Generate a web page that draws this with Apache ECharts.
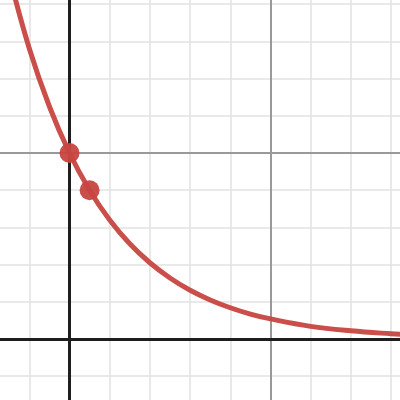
<!DOCTYPE html>
<html>
<head>
<meta charset="utf-8">
<script src="https://cdn.jsdelivr.net/npm/echarts@6/dist/echarts.min.js"></script>
<style>html,body{margin:0;padding:0;background:#fff}#c{width:400px;height:400px}</style>
</head>
<body>
<div id="c"></div>
<script>
// Curve samples (x, y)
const curveX = [-1.75, -1.5, -1, -0.5, 0, 0.5, 1, 1.5, 2, 2.5, 3, 3.5, 4, 4.5, 5, 6, 7, 8, 8.5];
const curveY = [10.92, 9.77, 7.81, 6.25, 5, 4, 3.2, 2.56, 2.05, 1.64, 1.31, 1.05, 0.84, 0.67, 0.54, 0.34, 0.22, 0.14, 0.11];
// Marked points
const pointX = [0, 0.5];
const pointY = [5, 4];
// Grid lines
const majorX = [5];
const majorY = [5];
const axisX = [0];
const axisY = [0];

const red = '#c74440';
const chart = echarts.init(document.getElementById('c'), null, {renderer: 'canvas'});

const lineMarks = [];
majorX.forEach(v => lineMarks.push({xAxis: v, lineStyle: {color: '#999', width: 2, type: 'solid'}}));
majorY.forEach(v => lineMarks.push({yAxis: v, lineStyle: {color: '#999', width: 2, type: 'solid'}}));
axisX.forEach(v => lineMarks.push({xAxis: v, lineStyle: {color: '#1e1e1e', width: 3, type: 'solid'}}));
axisY.forEach(v => lineMarks.push({yAxis: v, lineStyle: {color: '#1e1e1e', width: 3, type: 'solid'}}));

chart.setOption({
  animation: false,
  backgroundColor: '#fff',
  grid: {left: -10.9, top: -33, width: 442.2, height: 446.4, containLabel: false, outerBoundsMode: 'none'},
  xAxis: {
    type: 'value', min: -2, max: 9, interval: 1,
    axisLine: {show: false}, axisTick: {show: false}, axisLabel: {show: false},
    splitLine: {show: true, lineStyle: {color: '#e2e2e2', width: 1.5}}
  },
  yAxis: {
    type: 'value', min: -2, max: 10, interval: 1,
    axisLine: {show: false}, axisTick: {show: false}, axisLabel: {show: false},
    splitLine: {show: true, lineStyle: {color: '#e2e2e2', width: 1.5}}
  },
  series: [
    {
      type: 'line', data: [], z: 1, zlevel: 0, silent: true,
      markLine: {silent: true, z: 1, symbol: ['none', 'none'], label: {show: false}, animation: false, data: lineMarks}
    },
    {
      type: 'line', z: 20, silent: true,
      data: curveX.map((x, i) => [x, curveY[i]]),
      smooth: 0.4, showSymbol: false, clip: false,
      lineStyle: {color: red, width: 5, opacity: 0.95}
    },
    {
      type: 'scatter', z: 30, silent: true,
      data: pointX.map((x, i) => [x, pointY[i]]),
      symbolSize: 20,
      itemStyle: {color: red, opacity: 0.95}
    }
  ]
});
</script>
</body>
</html>
